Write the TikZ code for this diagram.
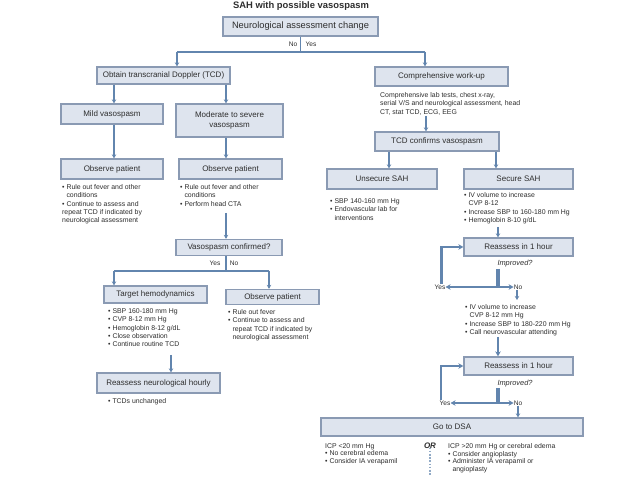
\documentclass[tikz,border=0pt]{standalone}
\usepackage{fontspec}
\setmainfont{Liberation Sans}
\usetikzlibrary{arrows.meta}
\definecolor{boxfill}{HTML}{DEE4EE}
\definecolor{boxline}{HTML}{8A9AB3}
\definecolor{arr}{HTML}{6285AE}
\definecolor{txt}{HTML}{2E2E2E}
\newcommand\mybul{\textbullet\ }
\newcommand\myind{\hphantom{\textbullet\ }}
\begin{document}
\begin{tikzpicture}[x=1pt,y=-1pt,
  box/.style={draw=boxline, line width=1.3pt, fill=boxfill, inner sep=0pt, text=txt,
    font=\fontsize{8}{9.5}\selectfont, align=center},
  note/.style={anchor=north west, inner sep=0pt, align=left, text=txt,
    font=\fontsize{6.9}{8.4}\selectfont},
  lbl/.style={inner sep=0pt, text=txt, font=\fontsize{6.6}{8}\selectfont},
  conn/.style={draw=arr, line width=1.4pt},
  arrow/.style={conn, -{Stealth[length=4pt,width=4.5pt]}},
  bconn/.style={draw=arr, line width=2.2pt},
  barrow/.style={bconn, -{Stealth[length=5pt,width=5.5pt]}},
  stem/.style={draw=arr, line width=3.2pt}]
\useasboundingbox[fill=white] (0,0) rectangle (638,478);

% title
\node[inner sep=0pt, text=txt, font=\bfseries\fontsize{9.4}{11}\selectfont] (title) at (301,6) {SAH with possible vasospasm};

% boxes
\node[box, minimum width=155pt, minimum height=19pt, font=\fontsize{9.3}{11}\selectfont] (top) at (300.5,26.5) {Neurological assessment change};
\node[box, minimum width=133pt, minimum height=17pt] (tcd) at (163.5,75.5) {Obtain transcranial Doppler (TCD)};
\node[box, minimum width=133pt, minimum height=19pt] (work) at (441.5,76.5) {Comprehensive work-up};
\node[box, minimum width=102pt, minimum height=20pt] (mild) at (112,114) {Mild vasospasm};
\node[box, minimum width=107pt, minimum height=33pt] (mod) at (229.5,120.5) {Moderate to severe\\vasospasm};
\node[box, minimum width=102pt, minimum height=20pt] (obs1) at (112,169) {Observe patient};
\node[box, minimum width=103pt, minimum height=20pt] (obs2) at (230.5,169) {Observe patient};
\node[box, minimum width=106pt, minimum height=16pt] (vc) at (229,247.5) {Vasospasm confirmed?};
\node[box, minimum width=103pt, minimum height=17pt] (target) at (155.5,294.5) {Target hemodynamics};
\node[box, minimum width=93pt, minimum height=15pt] (obs3) at (272.5,297) {Observe patient};
\node[box, minimum width=123pt, minimum height=20pt] (rnh) at (158.5,383) {Reassess neurological hourly};
\node[box, minimum width=124pt, minimum height=19pt] (tcdc) at (437,141.5) {TCD confirms vasospasm};
\node[box, minimum width=110pt, minimum height=20pt] (uns) at (382,179) {Unsecure SAH};
\node[box, minimum width=109pt, minimum height=20pt] (sec) at (518.5,179) {Secure SAH};
\node[box, minimum width=109pt, minimum height=18pt] (r1) at (518.5,247) {Reassess in 1 hour};
\node[box, minimum width=109pt, minimum height=18pt] (r2) at (518.5,366) {Reassess in 1 hour};
\node[box, minimum width=262pt, minimum height=18pt] (dsa) at (452,427) {Go to DSA};

% notes
\node[note] (workn) at (380,92.2) {Comprehensive lab tests, chest x-ray,\\serial V/S and neurological assessment, head\\CT, stat TCD, ECG, EEG};
\node[note] (obs1n) at (62,184.2) {\mybul Rule out fever and other\\\myind conditions\\\mybul Continue to assess and\\repeat TCD if indicated by\\neurological assessment};
\node[note] (obs2n) at (180,184.2) {\mybul Rule out fever and other\\\myind conditions\\\mybul Perform head CTA};
\node[note] (targetn) at (108,308.2) {\mybul SBP 160-180 mm Hg\\\mybul CVP 8-12 mm Hg\\\mybul Hemoglobin 8-12 g/dL\\\mybul Close observation\\\mybul Continue routine TCD};
\node[note] (obs3n) at (228,309.2) {\mybul Rule out fever\\\mybul Continue to assess and\\\myind repeat TCD if indicated by\\\myind neurological assessment};
\node[note] (rnhn) at (108,398.2) {\mybul TCDs unchanged};
\node[note] (unsn) at (330,198.2) {\mybul SBP 140-160 mm Hg\\\mybul Endovascular lab for\\\myind interventions};
\node[note] (secn) at (464,192.2) {\mybul IV volume to increase\\\myind CVP 8-12\\\mybul Increase SBP to 160-180 mm Hg\\\mybul Hemoglobin 8-10 g/dL};
\node[note] (non) at (465,304.2) {\mybul IV volume to increase\\\myind CVP 8-12 mm Hg\\\mybul Increase SBP to 180-220 mm Hg\\\mybul Call neurovascular attending};
\node[note, font=\fontsize{6.9}{7.7}\selectfont] (dsal) at (325,443.2) {ICP {<}20 mm Hg\\\mybul No cerebral edema\\\mybul Consider IA verapamil};
\node[note, font=\fontsize{6.9}{7.7}\selectfont] (dsar) at (448,443.2) {ICP {>}20 mm Hg or cerebral edema\\\mybul Consider angioplasty\\\mybul Administer IA verapamil or\\\myind angioplasty};
\node[inner sep=0pt, text=txt, font=\bfseries\itshape\fontsize{8}{9}\selectfont] (or) at (430,446) {OR};

% labels
\node[lbl] (no0) at (293,44) {No};
\node[lbl] (yes0) at (311,44) {Yes};
\node[lbl] (yesv) at (215,263) {Yes};
\node[lbl] (nov) at (234,263) {No};
\node[lbl, font=\itshape\fontsize{7.4}{9}\selectfont] (imp1) at (515,264) {Improved?};
\node[lbl, font=\itshape\fontsize{7.4}{9}\selectfont] (imp2) at (515,384) {Improved?};
\node[lbl] (yes1) at (440,287) {Yes};
\node[lbl] (no1) at (518,287) {No};
\node[lbl] (yes2) at (445,403) {Yes};
\node[lbl] (no2) at (518,403) {No};

% top split
\coordinate (sL) at (177,52);
\coordinate (sR) at (425,52);
\draw[conn] (top.south) -- (top.south |- sL);
\draw[conn] (sL) -- (sR);
\draw[arrow] (sL) -- (sL |- tcd.north);
\draw[arrow] (sR) -- (sR |- work.north);

% left branch
\draw[arrow] ([xshift=2pt]mild.north |- tcd.south) -- ([xshift=2pt]mild.north);
\draw[arrow] ([xshift=-3.5pt]mod.north |- tcd.south) -- ([xshift=-3.5pt]mod.north);
\draw[arrow] ([xshift=2pt]mild.south) -- ([xshift=2pt]mild.south |- obs1.north);
\draw[arrow] ([xshift=-3.5pt]mod.south) -- ([xshift=-3.5pt]mod.south |- obs2.north);
\coordinate (o2e) at (226,213);
\draw[arrow] (o2e) -- (o2e |- vc.north);
\coordinate (vs) at (226,271);
\coordinate (vL) at (114,271);
\coordinate (vR) at (269,271);
\draw[conn] (vc.south -| vs) -- (vs);
\draw[conn] (vL) -- (vR);
\draw[arrow] (vL) -- (vL |- target.north);
\draw[arrow] (vR) -- (vR |- obs3.north);
\coordinate (te) at (171,355);
\draw[arrow] (te) -- (te |- rnh.north);

% right branch
\coordinate (we) at (426,116);
\draw[arrow] (we) -- (we |- tcdc.north);
\draw[arrow] ([xshift=-48pt]tcdc.south) -- ([xshift=-48pt]tcdc.south |- uns.north);
\draw[arrow] ([xshift=59pt]tcdc.south) -- ([xshift=59pt]tcdc.south |- sec.north);
\coordinate (se) at (498,227);
\draw[arrow] (se) -- (se |- r1.north);

% first reassess
\coordinate (i1) at (498,269);
\coordinate (j1) at (498,287);
\draw[stem] (i1) -- (j1);
\draw[barrow] (j1) -- (yes1.east);
\draw[barrow] (j1) -- (no1.west);
\draw[barrow] ([xshift=1.5pt]yes1.north) -- ([xshift=1.5pt]yes1.north |- r1.west) -- (r1.west);
\coordinate (n1e) at (517,300);
\draw[arrow] ([xshift=-1pt]no1.south) -- (n1e);
\coordinate (ne) at (498,337);
\draw[barrow] (ne) -- (ne |- r2.north);

% second reassess
\coordinate (i2) at (498,388);
\coordinate (j2) at (498,403);
\draw[stem] (i2) -- (j2);
\draw[barrow] (j2) -- (yes2.east);
\draw[barrow] (j2) -- (no2.west);
\draw[barrow] ([xshift=-4pt]yes2.north) -- ([xshift=-4pt]yes2.north |- r2.west) -- (r2.west);
\draw[arrow] (no2.south) -- (no2.south |- dsa.north);

% OR dashed
\coordinate (orb) at (430,476);
\draw[draw=arr!70, line width=2.2pt, dash pattern=on 1.6pt off 1.6pt] ([yshift=1.5pt]or.south) -- (orb);
\end{tikzpicture}
\end{document}
